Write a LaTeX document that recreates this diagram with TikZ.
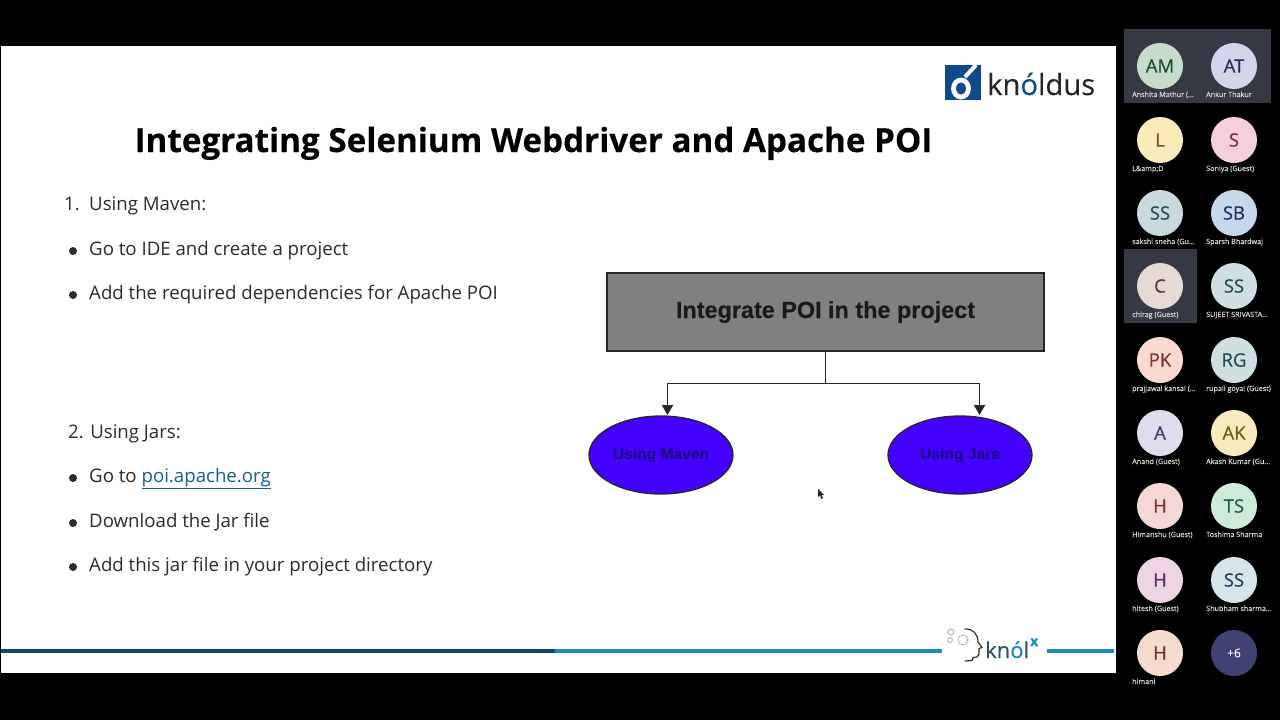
\documentclass[tikz,border=0pt]{standalone}
\usepackage{fontspec}
\setmainfont{Open Sans}
\newfontfamily\arialfont[FakeBold=0.25]{Liberation Sans Bold}
\newfontfamily\heavyfont[FakeBold=0.3]{Open Sans Bold}
\newfontfamily\medfont[FakeBold=0.35]{Open Sans}
\newfontfamily\lightmed[FakeBold=0.15]{Open Sans}
\usetikzlibrary{shapes.geometric,arrows.meta,calc}
\definecolor{slidetext}{HTML}{2B2B2B}
\definecolor{linkblue}{HTML}{1A5C96}
\definecolor{deepteal}{HTML}{0F4A5A}
\definecolor{lineblue}{HTML}{1B8DB8}
\definecolor{logoblue}{HTML}{0E4A8A}
\definecolor{tile}{HTML}{363843}
\definecolor{boxgrey}{HTML}{808080}
\definecolor{ovalblue}{HTML}{4400FF}
\definecolor{ovaltext}{HTML}{1F0A85}
\definecolor{knolx}{HTML}{2F5560}
\definecolor{morefill}{HTML}{414173}
\tikzset{
  slideline/.style={anchor=base west,inner sep=0pt,font=\fontsize{18.65}{22}\selectfont,text=slidetext},
  bulletdot/.style={circle,fill=slidetext,inner sep=0pt,minimum size=8pt},
  rootbox/.style={draw=black!85,line width=1.5pt,fill=boxgrey,minimum width=437pt,minimum height=78pt,inner sep=0pt,
    font=\arialfont\fontsize{23.4}{28}\selectfont,text=black!90},
  oval/.style={ellipse,draw=black!85,line width=1.3pt,fill=ovalblue,minimum width=144pt,minimum height=78pt,inner sep=0pt,
    font=\arialfont\fontsize{15.6}{18}\selectfont,text=ovaltext},
  link/.style={draw=black!85,line width=1.8pt,-{Triangle[length=10pt,width=11pt]}},
  avatarcirc/.style={circle,minimum size=46pt,inner sep=0pt,font=\medfont\fontsize{18.5}{22}\selectfont},
  avatarname/.style={anchor=base west,inner sep=0pt,font=\lightmed\fontsize{7.2}{9}\selectfont,text=white!85!black},
}
\newcommand{\avatar}[6]{%
  \definecolor{tmpfill}{HTML}{#3}\definecolor{tmptext}{HTML}{#4}%
  \node[avatarcirc,fill=tmpfill,text=tmptext] (av#1#2) at (#1,#2) {#5};
  \node[avatarname] (nm#1#2) at ($(#1,#2)+(-28,31)$) {#6};
}
\begin{document}
\begin{tikzpicture}[x=1pt,y=-1pt]
\useasboundingbox (0,0) rectangle (1280,720);
\fill[black] (0,0) rectangle (1280,720);
\fill[white] (1,46) rectangle (1116,673);
% logo
\fill[logoblue] (945,65) rectangle (981,100);
\draw[white,line width=4.8pt] (961,88.5) circle [x radius=7.5pt,y radius=8.5pt];
\draw[white,line width=4pt] (965,77) -- (976,65);
\node[anchor=base west,inner sep=0pt,font=\lightmed\fontsize{29.2}{34}\selectfont,text=black!85] (logotext) at (987,95) {kn\textcolor{logoblue}{ó}ldus};
% title
\node[anchor=base,inner sep=0pt,font=\heavyfont\fontsize{33.2}{40}\selectfont,text=black] (title) at (533.5,152) {Integrating Selenium Webdriver and Apache POI};
% body
\node[slideline] (l1n) at (64,210.5) {1.};
\node[slideline] (l1) at (89,210.5) {Using Maven:};
\node[bulletdot] (b1) at (73,251) {};
\node[slideline] (l2) at (89,255.5) {Go to IDE and create a project};
\node[bulletdot] (b2) at (73,295) {};
\node[slideline] (l3) at (89,299.5) {Add the required dependencies for Apache POI};
\node[slideline] (l4) at (68,438.5) {2. Using Jars:};
\node[bulletdot] (b3) at (73,478) {};
\node[slideline] (l5) at (89,482.5) {Go to \textcolor{linkblue}{\underline{poi.apache.org}}};
\node[bulletdot] (b4) at (73,523) {};
\node[slideline] (l6) at (89,527.5) {Download the Jar file};
\node[bulletdot] (b5) at (73,567) {};
\node[slideline] (l7) at (89,571.5) {Add this jar file in your project directory};
% diagram
\node[rootbox] (root) at (825.5,312) {\raisebox{-0.5pt}{Integrate POI in the project}};
\node[oval] (maven) at (661,455) {\raisebox{-0.5pt}{Using Maven}};
\node[oval] (jars) at (960,455) {\raisebox{-0.5pt}{Using Jars}};
\coordinate (mavenin) at (667.5,415);
\coordinate (jarsin) at (979.5,415);
\coordinate (fork) at (825.5,383.5);
\draw[draw=black!85,line width=1.8pt] (root.south) -- (fork);
\draw[link] (fork) -| (mavenin);
\draw[link] (fork) -| (jarsin);
% cursor
\fill[black!85] (818,489) -- (818,497) -- (820,495.5) -- (821.5,499) -- (823,498.3) -- (821.5,495) -- (824,495) -- cycle;
% bottom rule
\fill[deepteal] (1,648.5) rectangle (555,653);
\fill[lineblue] (555,648.5) rectangle (942,653);
\fill[lineblue] (1047,648.5) rectangle (1114,653);
% knolx mark
\draw[black!80,line width=1.2pt,line cap=round,line join=round] (965,629) .. controls (973,628.5) and (978,634) .. (978,642) -- (982,647.5) -- (979,648.5) -- (979,654) .. controls (979,657) and (976,657.5) .. (973,657.5) -- (972,660.5) -- (965,661);
\draw[black!25,line width=1.2pt] (951,632) circle (3pt) (950,640) circle (2.5pt);
\draw[black!40,line width=1.1pt,densely dotted] (963,640) circle (5pt);
\node[anchor=base west,inner sep=0pt,font=\medfont\fontsize{22}{26}\selectfont,text=knolx] (knolxtext) at (985,658) {kn\textcolor{lineblue}{ó}l};
\node[anchor=base west,inner sep=0pt,font=\heavyfont\fontsize{14}{16}\selectfont,text=lineblue] (knolxsup) at (1030,646) {x};
% participants
\fill[tile] (1124,29) rectangle (1271,103);
\fill[tile] (1124,249) rectangle (1197,323);
\avatar{1160}{66}{C8DCCB}{1C4A35}{AM}{Anshita Mathur (...}
\avatar{1234}{66}{D3D5EA}{262B5E}{AT}{Ankur Thakur}
\avatar{1160}{140}{FBEBBB}{6B5A14}{L}{L\&amp;D}
\avatar{1234}{140}{F6CFDC}{7A2748}{S}{Soniya (Guest)}
\avatar{1160}{213}{C9DADF}{1F4A5A}{SS}{sakshi sneha (Gu...}
\avatar{1234}{213}{C6D9EC}{14305F}{SB}{Sparsh Bhardwaj}
\avatar{1160}{286}{E6DAD5}{5A3A2E}{C}{chirag (Guest)}
\avatar{1234}{286}{CFDFE2}{1F4A55}{SS}{SUJEET SRIVASTA...}
\avatar{1160}{360}{FAD9CE}{7A3A2A}{PK}{prajjawal kansal (...}
\avatar{1234}{360}{CFDFE2}{1F4A55}{RG}{rupali goyal (Guest)}
\avatar{1160}{433}{DDDDEE}{43386B}{A}{Anand (Guest)}
\avatar{1234}{433}{FAEBBE}{6B5A14}{AK}{Akash Kumar (Gu...}
\avatar{1160}{506}{F5D7D5}{7A3038}{H}{Himanshu (Guest)}
\avatar{1234}{506}{CDEBD8}{1F5A45}{TS}{Toshima Sharma}
\avatar{1160}{580}{EED5E6}{5E2558}{H}{hitesh (Guest)}
\avatar{1234}{580}{D5E5EA}{1F4058}{SS}{Shubham sharma...}
\avatar{1160}{653}{F7DBCF}{6B3426}{H}{himani}
\node[avatarcirc,fill=morefill,text=white,font=\lightmed\fontsize{12}{14}\selectfont] (more) at (1234,653) {+6};
\end{tikzpicture}
\end{document}
